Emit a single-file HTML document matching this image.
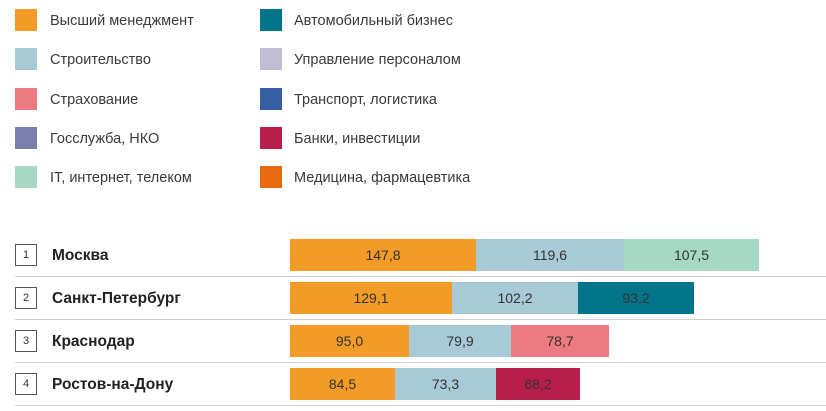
<!DOCTYPE html>
<html><head><meta charset="utf-8"><style>
body{margin:0;width:826px;height:411px;background:#fff;font-family:"Liberation Sans","Noto Sans CJK SC",sans-serif;position:relative;overflow:hidden;color:#333}
.sw{position:absolute;width:22px;height:22px}
.lt{position:absolute;font-size:14.5px;line-height:22px;color:#3a3a3a}
.box{position:absolute;left:15px;width:20px;height:20px;border:1px solid #555;font-size:11px;line-height:20px;text-align:center}
.nm{position:absolute;left:52px;font-size:15.5px;font-weight:bold;line-height:22px;color:#222}
.ln{position:absolute;left:15px;width:811px;height:1px;background:#d0d0d0}
.b{position:absolute;height:32px;line-height:32px;text-align:center;font-size:14px;color:#333}
</style></head><body>
<div class="sw" style="left:15px;top:9px;background:#f29b26"></div><div class="lt" style="left:50px;top:10px">Высший менеджмент</div>
<div class="sw" style="left:15px;top:48px;background:#a7cad6"></div><div class="lt" style="left:50px;top:49px">Строительство</div>
<div class="sw" style="left:15px;top:88px;background:#ec7a80"></div><div class="lt" style="left:50px;top:89px">Страхование</div>
<div class="sw" style="left:15px;top:127px;background:#7a7fae"></div><div class="lt" style="left:50px;top:128px">Госслужба, НКО</div>
<div class="sw" style="left:15px;top:166px;background:#a6d9c3"></div><div class="lt" style="left:50px;top:167px">IT, интернет, телеком</div>
<div class="sw" style="left:260px;top:9px;background:#007489"></div><div class="lt" style="left:294px;top:10px">Автомобильный бизнес</div>
<div class="sw" style="left:260px;top:48px;background:#bebdd4"></div><div class="lt" style="left:294px;top:49px">Управление персоналом</div>
<div class="sw" style="left:260px;top:88px;background:#3560a6"></div><div class="lt" style="left:294px;top:89px">Транспорт, логистика</div>
<div class="sw" style="left:260px;top:127px;background:#b81d4c"></div><div class="lt" style="left:294px;top:128px">Банки, инвестиции</div>
<div class="sw" style="left:260px;top:166px;background:#e8690f"></div><div class="lt" style="left:294px;top:167px">Медицина, фармацевтика</div>

<div class="box" style="top:244px">1</div><div class="nm" style="top:245px">Москва</div>
<div class="b" style="left:290px;width:186px;top:239px;background:#f29b26">147,8</div>
<div class="b" style="left:476px;width:148px;top:239px;background:#a7cad6">119,6</div>
<div class="b" style="left:624px;width:135px;top:239px;background:#a6d9c3">107,5</div>
<div class="ln" style="top:276px"></div>

<div class="box" style="top:287px">2</div><div class="nm" style="top:288px">Санкт-Петербург</div>
<div class="b" style="left:290px;width:162px;top:282px;background:#f29b26">129,1</div>
<div class="b" style="left:452px;width:126px;top:282px;background:#a7cad6">102,2</div>
<div class="b" style="left:578px;width:116px;top:282px;background:#007489">93,2</div>
<div class="ln" style="top:319px"></div>

<div class="box" style="top:330px">3</div><div class="nm" style="top:331px">Краснодар</div>
<div class="b" style="left:290px;width:119px;top:325px;background:#f29b26">95,0</div>
<div class="b" style="left:409px;width:102px;top:325px;background:#a7cad6">79,9</div>
<div class="b" style="left:511px;width:98px;top:325px;background:#ec7a80">78,7</div>
<div class="ln" style="top:362px"></div>

<div class="box" style="top:373px">4</div><div class="nm" style="top:374px">Ростов-на-Дону</div>
<div class="b" style="left:290px;width:105px;top:368px;background:#f29b26">84,5</div>
<div class="b" style="left:395px;width:101px;top:368px;background:#a7cad6">73,3</div>
<div class="b" style="left:496px;width:84px;top:368px;background:#b81d4c">68,2</div>
<div class="ln" style="top:405px"></div>
</body></html>
